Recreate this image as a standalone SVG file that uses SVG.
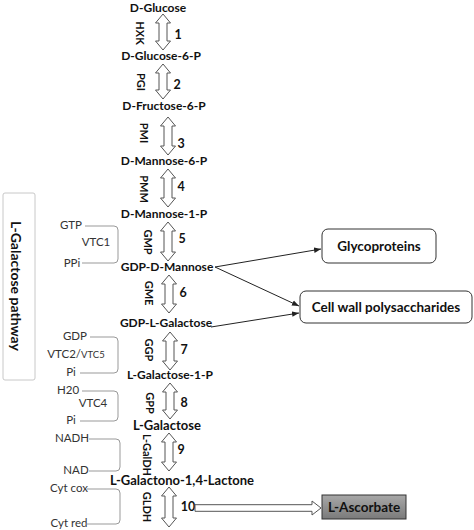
<svg xmlns="http://www.w3.org/2000/svg" width="474" height="530" viewBox="0 0 474 530">
<defs>
<style>
.n{font-family:Lato,"Liberation Sans",sans-serif;font-weight:bold;font-size:12px;fill:#111;text-anchor:middle}
.nl{font-family:Lato,"Liberation Sans",sans-serif;font-weight:bold;font-size:13px;fill:#111;text-anchor:middle}
.bx{font-family:Lato,"Liberation Sans",sans-serif;font-weight:bold;font-size:13.5px;fill:#111;text-anchor:middle}
.e{font-family:Lato,"Liberation Sans",sans-serif;font-weight:bold;font-size:11px;fill:#111;text-anchor:middle}
.num{font-family:Lato,"Liberation Sans",sans-serif;font-weight:bold;font-size:12.5px;fill:#111;text-anchor:middle}
.c{font-family:Lato,"Liberation Sans",sans-serif;font-size:11.5px;fill:#333;text-anchor:middle}
.ha{fill:#fff;stroke:#555;stroke-width:1}
.br{fill:none;stroke:#999;stroke-width:1}
.ln{stroke:#222;stroke-width:1;fill:none;marker-end:url(#ah)}
.box{fill:#fff;stroke:#333;stroke-width:1}
</style>
<marker id="ah" viewBox="0 0 10 10" refX="10" refY="5" markerWidth="7" markerHeight="7" orient="auto" markerUnits="userSpaceOnUse">
<path d="M0,1 L10,5 L0,9 z" fill="#222"/>
</marker>
<linearGradient id="g" x1="0" y1="0" x2="0" y2="1">
<stop offset="0" stop-color="#a8a8a8"/>
<stop offset="1" stop-color="#7a7a7a"/>
</linearGradient>
</defs>

<g id="pathway-box">
<rect x="3" y="193" width="32" height="187" rx="2" fill="#fff" stroke="#c8c8c8" stroke-width="1"/>
<text transform="translate(15,286) rotate(90)" style="font-family:Lato,'Liberation Sans',sans-serif;font-weight:bold;font-size:14px;fill:#111;text-anchor:middle" dominant-baseline="middle">L-Galactose pathway</text>
</g>

<g id="n-dglucose"><text class="n" x="158" y="12">D-Glucose</text></g>
<g id="n-dglucose6p"><text class="n" x="161" y="60">D-Glucose-6-P</text></g>
<g id="n-dfructose6p"><text class="n" x="164" y="110">D-Fructose-6-P</text></g>
<g id="n-dmannose6p"><text class="n" x="164" y="165">D-Mannose-6-P</text></g>
<g id="n-dmannose1p"><text class="n" x="164" y="218">D-Mannose-1-P</text></g>
<g id="n-gdpdmannose"><text class="n" x="167" y="271">GDP-D-Mannose</text></g>
<g id="n-gdplgalactose"><text class="n" x="166" y="327">GDP-L-Galactose</text></g>
<g id="n-lgalactose1p"><text class="n" x="170" y="379">L-Galactose-1-P</text></g>
<g id="n-lgalactose"><text class="nl" x="167" y="430">L-Galactose</text></g>
<g id="n-lactone"><text class="nl" x="182" y="485">L-Galactono-1,4-Lactone</text></g>

<g id="n-glycoproteins">
<rect class="box" x="322" y="229" width="114" height="34" rx="6"/>
<text class="bx" x="379" y="251">Glycoproteins</text>
</g>
<g id="n-cellwall">
<rect class="box" x="300" y="291" width="172" height="32" rx="6"/>
<text class="bx" x="386" y="312">Cell wall polysaccharides</text>
</g>
<g id="n-ascorbate">
<rect x="322" y="495" width="84" height="24" fill="url(#g)" stroke="#333" stroke-width="1"/>
<text class="bx" x="364" y="512">L-Ascorbate</text>
</g>

<g id="cofactors">
<text class="c" x="71" y="229">GTP</text>
<text class="c" x="96" y="246">VTC1</text>
<text class="c" x="72" y="267">PPi</text>
<path class="br" d="M85,226 H114 Q118,226 118,230 V259 Q118,263 114,263 H82"/>

<text class="c" x="75" y="340">GDP</text>
<text class="c" x="76" y="358">VTC2/<tspan font-size="9.5">VTC5</tspan></text>
<text class="c" x="71" y="376">Pi</text>
<path class="br" d="M90,337 H114 Q118,337 118,341 V369 Q118,373 114,373 H80"/>

<text class="c" x="68" y="394">H20</text>
<text class="c" x="93" y="407">VTC4</text>
<text class="c" x="71" y="424">Pi</text>
<path class="br" d="M82,391 H114 Q118,391 118,395 V417 Q118,421 114,421 H80"/>

<text class="c" x="72" y="442">NADH</text>
<text class="c" x="76" y="474">NAD</text>
<path class="br" d="M89,439 H116 Q120,439 120,443 V467 Q120,471 116,471 H89"/>

<text class="c" x="69" y="492">Cyt cox</text>
<text class="c" x="69" y="527">Cyt red</text>
<path class="br" d="M87,489 H116 Q120,489 120,493 V520 Q120,524 116,524 H87"/>
</g>

<g id="enzymes">
<text class="e" transform="translate(139,33) rotate(90)" dominant-baseline="middle">HXK</text>
<text class="e" transform="translate(140,82) rotate(90)" dominant-baseline="middle">PGI</text>
<text class="e" transform="translate(143,133) rotate(90)" dominant-baseline="middle">PMI</text>
<text class="e" transform="translate(143,189) rotate(90)" dominant-baseline="middle">PMM</text>
<text class="e" transform="translate(147,242) rotate(90)" dominant-baseline="middle">GMP</text>
<text class="e" transform="translate(148,293) rotate(90)" dominant-baseline="middle">GME</text>
<text class="e" transform="translate(148,350) rotate(90)" dominant-baseline="middle">GGP</text>
<text class="e" transform="translate(149,403) rotate(90)" dominant-baseline="middle">GPP</text>
<text class="e" transform="translate(146,455) rotate(90)" dominant-baseline="middle">L-GalDH</text>
<text class="e" transform="translate(146,507) rotate(90)" dominant-baseline="middle">GLDH</text>
</g>

<g id="numbers">
<text class="num" x="178" y="39">1</text>
<text class="num" x="177" y="89">2</text>
<text class="num" x="181" y="148">3</text>
<text class="num" x="181" y="191">4</text>
<text class="num" x="182" y="243">5</text>
<text class="num" x="183" y="297">6</text>
<text class="num" x="184" y="354">7</text>
<text class="num" x="184" y="407">8</text>
<text class="num" x="181" y="454">9</text>
<text class="num" x="188" y="511">10</text>
</g>

<g id="connectors">
<polygon class="ha" points="163,14 170.5,23 167,23 167,41 170.5,41 163,50 155.5,41 159,41 159,23 155.5,23"/>
<polygon class="ha" points="163,64 170.5,73 167,73 167,90 170.5,90 163,99 155.5,90 159,90 159,73 155.5,73"/>
<polygon class="ha" points="168,117 175.5,126 172,126 172,146 175.5,146 168,155 160.5,146 164,146 164,126 160.5,126"/>
<polygon class="ha" points="168,169 175.5,178 172,178 172,198 175.5,198 168,207 160.5,198 164,198 164,178 160.5,178"/>
<polygon class="ha" points="168,222 175.5,231 172,231 172,252 175.5,252 168,261 160.5,252 164,252 164,231 160.5,231"/>
<polygon class="ha" points="169,275 176.5,284 173,284 173,304 176.5,304 169,313 161.5,304 165,304 165,284 161.5,284"/>
<polygon class="ha" points="170,332 177.5,341 174,341 174,361 177.5,361 170,370 162.5,361 166,361 166,341 162.5,341"/>
<polygon class="ha" points="170,383 177.5,392 174,392 174,410 177.5,410 170,419 162.5,410 166,410 166,392 162.5,392"/>
<polygon class="ha" points="169,433 176.5,442 173,442 173,462 176.5,462 169,471 161.5,462 165,462 165,442 161.5,442"/>
<polygon class="ha" points="169,487 176.5,496 173,496 173,518 176.5,518 169,527 161.5,518 165,518 165,496 161.5,496"/>
<polygon class="ha" points="195,504.7 312,504.7 312,501 321,508 312,515 312,511.3 195,511.3"/>
<line class="ln" x1="215" y1="267" x2="321" y2="249"/>
<line class="ln" x1="215" y1="267" x2="299" y2="306"/>
<line class="ln" x1="211" y1="327" x2="299" y2="313"/>
</g>
</svg>
